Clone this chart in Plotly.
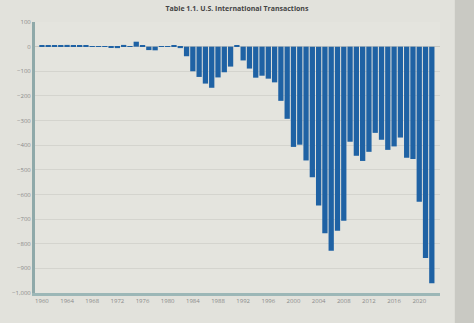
import plotly.graph_objects as go

# U.S. current account balance (billions of dollars)
years = list(range(1960, 2023))
balance = [
    3, 4, 3, 4, 7, 5, 3, 3, 1, 1,            # 1960-1969
    2, -2, -6, 7, 2, 20, 4, -14, -15, -1,    # 1970-1979
    2, 5, -6, -39, -100, -123, -150, -167, -125, -104,  # 1980-1989
    -81, 3, -56, -89, -126, -118, -130, -145, -220, -293,  # 1990-1999
    -407, -398, -462, -530, -645, -757, -828, -747, -707, -386,  # 2000-2009
    -443, -464, -427, -350, -378, -419, -405, -369, -451, -456,  # 2010-2019
    -630, -858, -960,                          # 2020-2022
]
x_ticks = list(range(1960, 2021, 4))
y_ticks = list(range(-1000, 101, 100))

fig = go.Figure()
fig.add_trace(go.Bar(
    x=years, y=balance,
    marker=dict(color="#1f62a4", line=dict(width=0)),
    hoverinfo="x+y",
))

fig.update_layout(
    width=474, height=323,
    margin=dict(l=30, r=34, t=22, b=30),
    paper_bgcolor="#e2e2dc",
    plot_bgcolor="#e4e4de",
    bargap=0.16,
    showlegend=False,
    title=dict(
        text="<b>Table 1.1. U.S. International Transactions</b>",
        x=0.5, xanchor="center", y=0.975, yanchor="middle",
        font=dict(family="Open Sans", size=7, color="#444444"),
    ),
    font=dict(family="Open Sans", size=6, color="#8a8a8a"),
    shapes=[
        dict(type="rect", xref="paper", yref="paper",
             x0=(455 - 30) / 410, x1=474 / 410, y0=-0.2, y1=1.2,
             fillcolor="#c9c9c3", line=dict(width=0), layer="below"),
    ],
)
fig.update_xaxes(
    range=[1958.9, 2023.3],
    tickmode="array", tickvals=x_ticks, ticktext=[str(t) for t in x_ticks],
    showgrid=False, zeroline=False,
    showline=True, linecolor="#9cb7b7", linewidth=3,
    ticks="", tickfont=dict(size=6, color="#8a8a8a"),
)
fig.update_yaxes(
    range=[-1000, 100],
    tickmode="array", tickvals=y_ticks,
    tickformat=",",
    showgrid=True, gridcolor="#d4d4ce", gridwidth=1,
    zeroline=True, zerolinecolor="#c8c8c2", zerolinewidth=1,
    showline=True, linecolor="#8fa9a9", linewidth=3,
    ticks="", tickfont=dict(size=6, color="#8a8a8a"),
)

fig.write_html("out.html")
